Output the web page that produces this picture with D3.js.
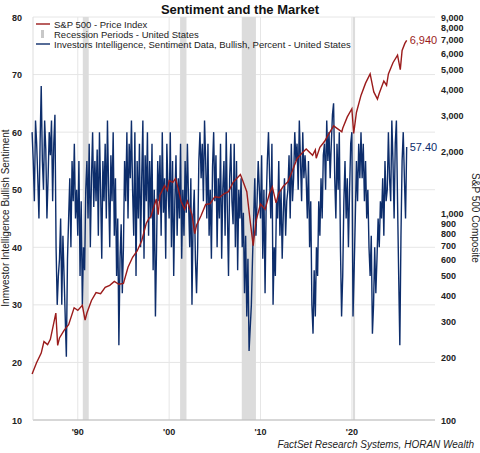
<!DOCTYPE html>
<html><head><meta charset="utf-8">
<script src="https://cdn.jsdelivr.net/npm/d3@7"></script>
<style>body{margin:0;background:#fff;font-family:Arial,"Liberation Sans",sans-serif}</style>
</head><body><svg id="chart" width="480" height="453"></svg>
<script>
// sentiment, 8 readings per year from 1985.0
var sentStart = 1985, sentStep = 1 / 8;
var sentiment = [
 60,55,48,62,58,52,45,58, 68,55,50,62,57,45,52,60, 56,62,48,58,63,40,30,35,
 38,45,30,42,35,28,21,38, 45,52,40,55,48,58,45,50, 42,55,35,48,30,40,36,50,
 55,45,58,40,52,60,47,55, 48,57,42,60,50,38,55,48, 58,45,62,50,40,56,48,60,
 42,52,35,45,23,38,44,32, 40,55,48,60,45,58,52,62, 50,42,60,35,55,45,58,40,
 52,62,38,56,48,60,42,55, 45,58,36,50,28,40,55,48, 56,42,60,46,52,38,58,50,
 45,60,40,55,35,48,56,42, 52,45,58,38,50,42,55,46, 58,48,40,52,30,45,50,38,
 32,40,55,60,52,58,48,62, 55,45,58,42,50,38,54,60, 48,56,40,52,45,58,38,50,
 55,42,60,46,35,52,58,48, 44,58,40,55,36,50,45,52, 40,46,32,42,28,38,22,26,
 30,38,45,52,42,48,55,50, 45,56,38,50,32,48,55,60, 52,45,58,30,40,35,48,45,
 55,42,50,38,46,52,42,48, 50,56,45,58,48,52,60,55, 58,50,62,55,48,60,52,56,
 52,45,55,40,48,30,25,36, 28,40,35,48,42,52,45,56, 58,50,62,55,60,52,58,63,
 65,52,45,58,50,60,40,28, 35,48,55,45,52,40,50,58, 60,28,36,45,55,48,58,52,
 60,52,58,48,55,45,50,40, 35,42,25,30,40,32,38,45, 40,48,45,52,42,55,48,50,
 60,52,48,62,55,45,58,62, 48,35,23,42,55,60,52,45, 57.4];

var spxDates = [1985,1985.5,1986,1986.3,1986.7,1987,1987.6,1987.8,1988,1988.5,1989,1989.6,1990,1990.5,1990.8,1991,1991.5,1992,1992.5,1993,1993.5,1994,1994.5,1995,1995.5,1996,1996.5,1997,1997.5,1997.8,1998,1998.6,1998.8,1999,1999.5,1999.8,2000,2000.4,2000.7,2001,2001.3,2001.7,2002,2002.5,2002.8,2003,2003.5,2004,2004.5,2005,2005.5,2006,2006.5,2007,2007.5,2007.8,2008,2008.5,2008.9,2009.2,2009.5,2010,2010.5,2011,2011.3,2011.7,2012,2012.5,2013,2013.5,2014,2014.5,2015,2015.7,2016,2016.1,2016.5,2017,2017.5,2018,2018.9,2019,2019.5,2020,2020.2,2020.5,2021,2021.5,2022,2022.4,2022.8,2023,2023.5,2023.8,2024,2024.5,2025,2025.3,2025.5,2025.8,2026];
var spxValues = [167,190,211,240,232,246,330,230,250,272,290,350,340,360,305,330,380,415,410,440,450,470,455,460,550,615,660,740,900,950,970,1180,990,1230,1370,1300,1450,1420,1480,1320,1150,1050,1150,990,800,880,980,1110,1120,1210,1200,1250,1280,1420,1500,1550,1470,1280,900,700,920,1115,1050,1260,1350,1130,1260,1360,1430,1620,1850,1960,2060,1920,2040,1860,2100,2240,2450,2670,2500,2600,2950,3230,2450,3100,3750,4300,4770,3900,3600,3840,4400,4200,4770,5400,5880,5000,6200,6700,6940];

var sentTicks = [10,20,30,40,50,60,70,80];
var spxTicks = [100,200,300,400,500,600,700,800,900,1000,2000,3000,4000,5000,6000,7000,8000,9000];
var yearTicks = [1990,2000,2010,2020];
var recessions = [[1990.55,1991.2],[2001.2,2001.9],[2007.95,2009.5],[2020.1,2020.35]];

var svg = d3.select("#chart");
var L = 33, R = 435, T = 17, B = 420;
var x = d3.scaleLinear().domain([1985.1, 2029.1]).range([L, R]);
var yl = d3.scaleLinear().domain([10, 80]).range([B, T]);
var yr = d3.scaleLog().domain([100, 9000]).range([B, T]);

svg.append("g").selectAll("line").data(sentTicks).enter().append("line")
  .attr("x1", L).attr("x2", R).attr("y1", yl).attr("y2", yl)
  .attr("stroke", "#e6e6e6");
svg.append("g").selectAll("line").data(yearTicks).enter().append("line")
  .attr("x1", x).attr("x2", x).attr("y1", T).attr("y2", B)
  .attr("stroke", "#e6e6e6");

svg.append("g").selectAll("rect").data(recessions).enter().append("rect")
  .attr("x", d => x(d[0])).attr("width", d => x(d[1]) - x(d[0]))
  .attr("y", T).attr("height", B - T).attr("fill", "#dcdcdc");

svg.append("line").attr("x1", L).attr("x2", R).attr("y1", B).attr("y2", B).attr("stroke", "#bbb");
svg.append("line").attr("x1", L).attr("x2", L).attr("y1", T).attr("y2", B).attr("stroke", "#ddd");

var sentLine = d3.line().x((d, i) => x(sentStart + i * sentStep)).y(d => yl(d));
svg.append("path").datum(sentiment).attr("d", sentLine)
  .attr("fill", "none").attr("stroke", "#0d2d6b").attr("stroke-width", 1.4);

var spxLine = d3.line().x((d, i) => x(spxDates[i])).y(d => yr(d));
svg.append("path").datum(spxValues).attr("d", spxLine)
  .attr("fill", "none").attr("stroke", "#9b1b1b").attr("stroke-width", 1.4);

var bold = "bold 9px Arial";
svg.append("g").selectAll("text").data(sentTicks).enter().append("text")
  .attr("x", 22).attr("y", d => yl(d) + 3.5).attr("text-anchor", "end")
  .style("font", bold).attr("fill", "#222").text(d => d);
var fmt = d3.format(",");
svg.append("g").selectAll("text").data(spxTicks).enter().append("text")
  .attr("x", 441).attr("y", d => yr(d) + 3.5)
  .style("font", bold).attr("fill", "#222").text(d => fmt(d));
svg.append("g").selectAll("text").data(yearTicks).enter().append("text")
  .attr("x", x).attr("y", 435).attr("text-anchor", "middle")
  .style("font", bold).attr("fill", "#222").text(d => "'" + String(d).slice(2));

svg.append("text").attr("x", 240).attr("y", 14).attr("text-anchor", "middle")
  .style("font", "bold 13px Arial").attr("fill", "#111").text("Sentiment and the Market");
svg.append("text").attr("transform", "translate(9,218) rotate(-90)").attr("text-anchor", "middle")
  .style("font", "10px Arial").attr("fill", "#222").text("Inmvestor Intelligence Bullish Sentiment");
svg.append("text").attr("transform", "translate(472,218) rotate(90)").attr("text-anchor", "middle")
  .style("font", "10px Arial").attr("fill", "#222").text("S&P 500 Composite");
svg.append("text").attr("x", 474).attr("y", 448).attr("text-anchor", "end")
  .style("font", "italic 10px Arial").attr("fill", "#222").text("FactSet Research Systems, HORAN Wealth");

var lastS = sentiment.length - 1;
svg.append("text").attr("x", x(sentStart + lastS * sentStep) + 3).attr("y", yl(sentiment[lastS]) + 4)
  .style("font", "11px Arial").attr("fill", "#0d2d6b").text(d3.format(".2f")(sentiment[lastS]));
var lastP = spxValues.length - 1;
svg.append("text").attr("x", x(spxDates[lastP]) + 3).attr("y", yr(spxValues[lastP]) + 4)
  .style("font", "11px Arial").attr("fill", "#9b1b1b").text(fmt(spxValues[lastP]));

var legend = [["S&P 500 - Price Index", "line", "#9b1b1b"],
  ["Recession Periods - United States", "bar", "#c8c8c8"],
  ["Investors Intelligence, Sentiment Data, Bullish, Percent - United States", "line", "#0d2d6b"]];
var lg = svg.append("g").attr("transform", "translate(36,24)");
legend.forEach(function (d, i) {
  var g = lg.append("g").attr("transform", "translate(0," + i * 10 + ")");
  if (d[1] == "line") g.append("line").attr("x1", 0).attr("x2", 14).attr("stroke", d[2]).attr("stroke-width", 1.4);
  else g.append("rect").attr("x", 5).attr("y", -4).attr("width", 3).attr("height", 8).attr("fill", d[2]);
  g.append("text").attr("x", 18).attr("y", 3.5).style("font", "9.5px Arial").attr("fill", "#222").text(d[0]);
});
</script></body></html>
